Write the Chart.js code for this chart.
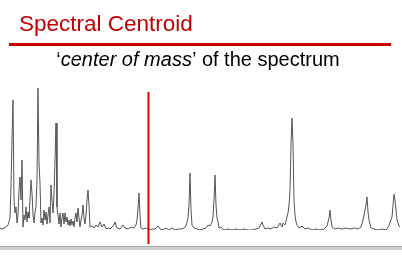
<!DOCTYPE html>
<html>
<head>
<meta charset="utf-8">
<script src="https://cdn.jsdelivr.net/npm/chart.js@4"></script>
<style>
  html, body { margin: 0; padding: 0; background: #fff; }
  canvas { display: block; }
</style>
</head>
<body>
<canvas id="chart-0" width="402" height="255"></canvas>
<script>
  // spectrum: frequency bin -> magnitude above the floor
  var freqs = [0, 2, 4, 6, 8, 9, 10, 11, 12, 13, 14, 15, 16, 17, 18, 19, 20, 21, 22, 23,
    24, 25, 26, 27, 28, 29, 30, 31, 32, 33, 34, 35, 36, 37, 38, 39, 40, 41, 42, 43,
    44, 45, 46, 47, 48, 49, 50, 51, 52, 53, 54, 55, 56, 57, 58, 59, 60, 61, 62, 63,
    64, 65, 66, 67, 68, 69, 70, 71, 72, 73, 74, 75, 76, 77, 78, 79, 80, 81, 82, 83,
    84, 85, 86, 87, 88, 89, 90, 92, 94, 96, 98, 100, 102, 104, 106, 108, 110, 112, 114, 115,
    117, 120, 123, 125, 128, 131, 134, 136, 137, 138, 139, 140, 141, 143, 146, 149, 152, 155, 158, 160,
    163, 166, 169, 172, 175, 178, 181, 184, 186, 188, 189, 190, 191, 192, 194, 197, 200, 203, 206, 208,
    210, 212, 213, 214, 215, 216, 217, 218, 219, 221, 224, 228, 232, 236, 240, 244, 248, 252, 256, 259,
    261, 262, 263, 265, 268, 271, 274, 277, 280, 282, 283, 285, 287, 288, 289, 290, 291, 292, 293, 294,
    295, 296, 297, 299, 302, 305, 308, 312, 316, 320, 324, 327, 329, 330, 331, 332, 335, 338, 342, 346,
    350, 354, 358, 361, 363, 364, 365, 366, 367, 368, 369, 371, 374, 378, 382, 386, 389, 390, 392, 393,
    394, 395, 397, 399, 400];
  var mags = [2, 1, 2, 3, 5, 8, 12, 45, 90, 130, 30, 17, 23, 7, 15, 40, 53, 30, 70, 3,
    15, 10, 23, 8, 18, 12, 30, 50, 37, 15, 7, 18, 23, 50, 142, 67, 47, 7, 12, 5,
    20, 10, 18, 6, 15, 23, 7, 45, 30, 17, 35, 70, 107, 23, 15, 6, 17, 3, 12, 17,
    6, 17, 8, 13, 5, 10, 4, 11, 5, 9, 3, 12, 17, 8, 22, 12, 3, 10, 15, 25,
    12, 6, 15, 30, 40, 25, 3, 4, 2, 5, 3, 8, 3, 6, 1, 2, 1, 3, 5, 8,
    2, 1, 5, 2, 1, 3, 2, 5, 10, 22, 37, 15, 2, 1, 2, 0, 1, 1, 4, 1,
    0, 2, 0, 2, 0, 1, 1, 2, 4, 12, 25, 57, 20, 5, 2, 1, 0, 1, 2, 5,
    4, 8, 13, 30, 55, 25, 12, 8, 2, 3, 0, 1, 0, 1, 0, 1, 0, 0, 1, 2,
    6, 8, 5, 1, 2, 1, 3, 2, 7, 3, 7, 5, 13, 17, 25, 40, 85, 112, 87, 30,
    15, 8, 5, 2, 4, 1, 2, 0, 1, 0, 1, 4, 12, 20, 10, 3, 1, 2, 1, 2,
    1, 2, 1, 3, 10, 15, 20, 25, 33, 18, 10, 2, 1, 0, 1, 0, 4, 8, 13, 25,
    36, 30, 10, 4, 3];
  var centroid = 148;
  var titleText = 'Spectral Centroid';
  var subtitleParts = ['\u2018', 'center of mass', '\u2019 of the spectrum'];

  var points = freqs.map(function(f, i) {
    return {x: f, y: mags[i]};
  });

  var FONT = '"Liberation Sans", Arial, sans-serif';

  var slide = {
    id: 'slide',
    beforeDatasetsDraw: function(chart) {
      var ctx = chart.ctx;
      ctx.save();
      // grey rule at the bottom of the slide
      ctx.fillStyle = '#a9a9a9';
      ctx.fillRect(0, 246, 402, 1);
      ctx.fillStyle = '#cdcdcd';
      ctx.fillRect(0, 247, 402, 3);
      ctx.restore();
    },
    afterDraw: function(chart) {
      var ctx = chart.ctx;
      var x = chart.scales.x, y = chart.scales.y;
      ctx.save();

      // title + red rule
      ctx.fillStyle = '#c00000';
      ctx.font = '22.5px ' + FONT;
      ctx.textBaseline = 'alphabetic';
      ctx.fillText(titleText, 19, 31);
      ctx.fillStyle = '#cc0000';
      ctx.fillRect(9, 43, 382, 3);

      // subtitle, italic middle part
      ctx.fillStyle = '#000';
      var fonts = ['20px ' + FONT, 'italic 20px ' + FONT, '20px ' + FONT];
      var total = 0;
      subtitleParts.forEach(function(t, i) {
        ctx.font = fonts[i];
        total += ctx.measureText(t).width;
      });
      var sx = 198 - total / 2;
      subtitleParts.forEach(function(t, i) {
        ctx.font = fonts[i];
        ctx.fillText(t, sx, 66);
        sx += ctx.measureText(t).width;
      });

      // centroid marker
      var cx = Math.round(x.getPixelForValue(centroid)) + 0.5;
      ctx.strokeStyle = '#dd0000';
      ctx.lineWidth = 2;
      ctx.beginPath();
      ctx.moveTo(cx, y.getPixelForValue(138));
      ctx.lineTo(cx, y.getPixelForValue(-14));
      ctx.stroke();
      ctx.restore();
    }
  };

  var chart = new Chart('chart-0', {
    type: 'line',
    data: {
      datasets: [{
        data: points,
        borderColor: '#555555',
        borderWidth: 1,
        pointRadius: 0,
        tension: 0,
        fill: false
      }]
    },
    options: {
      responsive: false,
      animation: false,
      layout: { padding: { left: 0, right: 2, top: 80, bottom: 25 } },
      plugins: {
        legend: { display: false },
        tooltip: { enabled: false },
        title: { display: false }
      },
      scales: {
        x: { type: 'linear', min: 0, max: 400, display: false },
        y: { min: 0, max: 150, display: false }
      }
    },
    plugins: [slide]
  });
</script>
</body>
</html>
